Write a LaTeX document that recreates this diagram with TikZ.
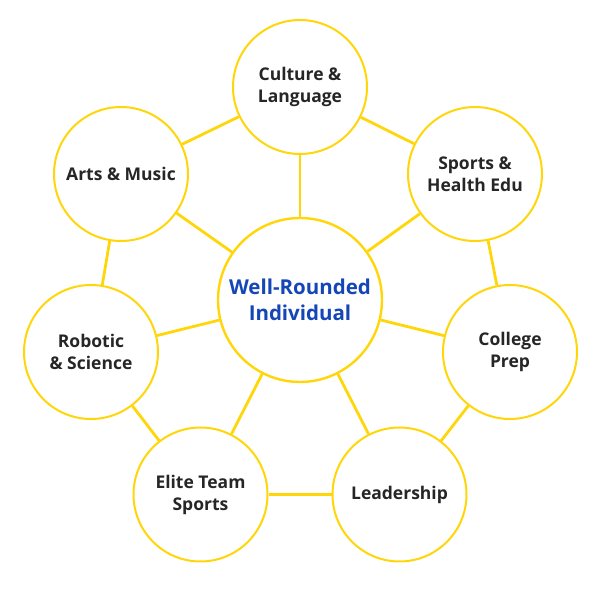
\documentclass[tikz,border=0pt]{standalone}
\usepackage{fontspec}
\setmainfont{Open Sans}
\definecolor{ylw}{HTML}{FFD60A}
\definecolor{txt}{HTML}{262626}
\definecolor{blu}{HTML}{1446B8}
\begin{document}
\begin{tikzpicture}[x=1pt,y=1pt,
  outer/.style={circle,draw=ylw,line width=2pt,fill=white,minimum size=134pt,inner sep=0pt,
    align=center,font=\fontsize{17.5}{22}\selectfont\bfseries,text=txt},
  hub/.style={circle,draw=ylw,line width=2.4pt,fill=white,minimum size=164pt,inner sep=0pt,
    align=center,font=\fontsize{20.5}{25.5}\selectfont\bfseries,text=blu},
  link/.style={draw=ylw,line width=2.8pt}]
\useasboundingbox (0,0) rectangle (600,600);
\node[hub] (c) at (300,300) {Well-Rounded\\Individual};
\node[outer] (cul) at (300,513) {Culture \&\\Language};
\node[outer] (spo) at (475,426) {Sports \&\\Health Edu};
\node[outer] (col) at (510,248) {College\\Prep};
\node[outer] (lea) at (399.5,105.5) {Leadership};
\node[outer] (eli) at (200.5,105.5) {Elite Team\\Sports};
\node[outer] (rob) at (91,248) {Robotic\\\& Science};
\node[outer] (art) at (121,426) {Arts \& Music};
\foreach \n in {cul,spo,col,lea,eli,rob,art}{\draw[link] (c) -- (\n);}
\draw[link] (cul) -- (spo);
\draw[link] (spo) -- (col);
\draw[link] (col) -- (lea);
\draw[link] (lea) -- (eli);
\draw[link] (eli) -- (rob);
\draw[link] (rob) -- (art);
\draw[link] (art) -- (cul);
\end{tikzpicture}
\end{document}
